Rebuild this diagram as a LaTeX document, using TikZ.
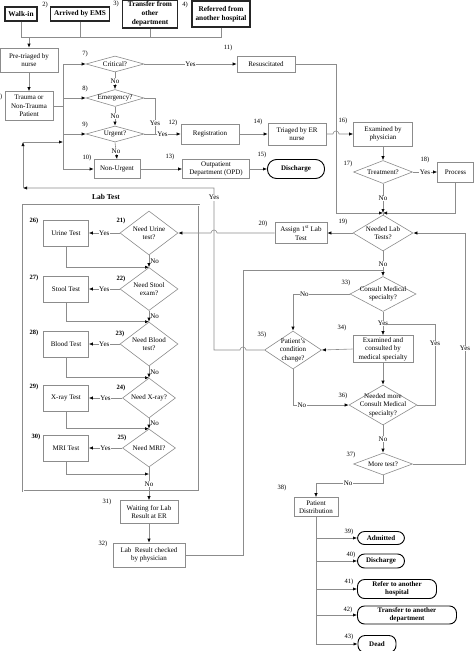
\documentclass[tikz,border=0pt]{standalone}
\usepackage{fontspec}
\setmainfont{Liberation Serif}
\usetikzlibrary{shapes.geometric,arrows.meta}

\begin{document}
\begin{tikzpicture}[x=1pt, y=-1pt,
  font=\fontsize{7}{8.5}\selectfont,
  con/.style={draw=black!45, line width=0.6pt},
  arr/.style={con, -{Latex[length=4pt,width=3.2pt,color=black]}},
  box/.style={draw=black!45, line width=0.6pt, align=center, inner sep=1pt},
  dia/.style={draw=black!45, line width=0.6pt, diamond, inner sep=0pt},
  txt/.style={align=center, inner sep=0pt},
  term/.style={draw=black, line width=0.9pt, rounded corners=7pt, align=center, inner sep=1pt, font=\fontsize{7}{8.5}\selectfont\bfseries},
  src/.style={draw=black!85, line width=1.4pt, align=center, inner sep=0.5pt, font=\fontsize{7.3}{9}\selectfont\bfseries},
  labframe/.style={draw=black!45, line width=0.6pt, double=white, double distance=0.8pt},
  yn/.style={fill=white, inner sep=0.5pt, text=black},
  nr/.style={right, inner sep=1pt, text=black},
  num/.style={font=\fontsize{6.5}{7}\selectfont, inner sep=0pt},
  numb/.style={font=\fontsize{6.5}{7}\selectfont\bfseries, inner sep=0pt}]
\useasboundingbox (0,0) rectangle (474,651);

% arrivals
\node[src, minimum width=32pt, minimum height=14pt] (walk) at (21,14) {Walk-in};
\node[src, minimum width=59pt, minimum height=14pt] (ems) at (80,14) {Arrived by EMS};
\node[src, minimum width=55pt, minimum height=28pt] (trans) at (150,14) {Transfer from\\other\\department};
\node[src, minimum width=58pt, minimum height=26pt] (refer) at (221,14) {Referred from\\another hospital};
\node[num] (n2) at (45,5) {2)};
\node[num] (n3) at (116,4) {3)};
\node[num] (n4) at (185,5) {4)};

\node[box, minimum width=58pt, minimum height=24pt] (pre) at (29,60) {Pre-triaged by\\nurse};
\node[box, minimum width=48pt, minimum height=29pt] (trauma) at (29,106) {Trauma or\\Non-Trauma\\Patient};
\node[num, anchor=east] (n6) at (2.5,97) {6)};

% triage decisions
\node[dia, minimum width=58pt, minimum height=16pt] (crit) at (115,64) {};
\node[txt] (critT) at (crit) {Critical?};
\node[dia, minimum width=58pt, minimum height=17pt] (emer) at (115,98) {};
\node[txt] (emerT) at (emer) {Emergency?};
\node[dia, minimum width=58pt, minimum height=16pt] (urg) at (115,134) {};
\node[txt] (urgT) at (urg) {Urgent?};
\node[box, minimum width=46pt, minimum height=19pt] (nonurg) at (117,169) {Non-Urgent};
\node[num] (n7) at (85,54) {7)};
\node[num] (n8) at (85,89) {8)};
\node[num] (n9) at (85,125) {9)};
\node[num] (n10) at (87,158) {10)};

\node[box, minimum width=58pt, minimum height=16pt] (resus) at (266,64) {Resuscitated};
\node[box, minimum width=58pt, minimum height=20pt] (reg) at (210,134) {Registration};
\node[box, minimum width=58pt, minimum height=22pt] (nurse) at (297,134) {Triaged by ER\\nurse};
\node[box, minimum width=59pt, minimum height=24pt] (exam) at (383,134) {Examined by\\physician};
\node[box, minimum width=67pt, minimum height=19pt] (opd) at (216,169) {Outpatient\\Department (OPD)};
\node[term, minimum width=57pt, minimum height=19pt, rounded corners=9pt] (dis15) at (296,169) {Discharge};
\node[dia, minimum width=59pt, minimum height=23pt] (treat) at (383,172) {};
\node[txt] (treatT) at (treat) {Treatment?};
\node[box, minimum width=36pt, minimum height=20pt] (proc) at (455.5,172) {Process};
\node[num] (n11) at (228,48) {11)};
\node[num] (n12) at (173,123) {12)};
\node[num] (n13) at (170,157) {13)};
\node[num] (n14) at (258,122) {14)};
\node[num] (n15) at (262,155) {15)};
\node[num] (n16) at (343,121) {16)};
\node[num] (n17) at (348,164) {17)};
\node[num] (n18) at (425,160) {18)};

\node[dia, minimum width=60pt, minimum height=36pt] (d19) at (383,233) {};
\node[txt] (d19T) at (d19) {Needed Lab\\Tests?};
\node[box, minimum width=52pt, minimum height=21pt] (assign) at (301,233) {Assign 1\textsuperscript{st} Lab\\Test};
\node[num] (n19) at (343,222) {19)};
\node[num] (n20) at (263,224) {20)};

% lab tests
\draw[labframe] (23,205) rectangle (199,491);
\node[font=\fontsize{7.5}{9}\selectfont\bfseries] (labT) at (106,197) {Lab Test};
\node[dia, minimum width=58pt, minimum height=44pt] (d21) at (149,233) {};
\node[txt] (d21T) at (d21) {Need Urine\\test?};
\node[dia, minimum width=58pt, minimum height=43pt] (d22) at (149,289) {};
\node[txt] (d22T) at (d22) {Need Stool\\exam?};
\node[dia, minimum width=58pt, minimum height=44pt] (d23) at (149,344) {};
\node[txt] (d23T) at (d23) {Need Blood\\test?};
\node[dia, minimum width=53pt, minimum height=40pt] (d24) at (149,398) {};
\node[txt] (d24T) at (d24) {Need X-ray?};
\node[dia, minimum width=53pt, minimum height=38pt] (d25) at (149,448) {};
\node[txt] (d25T) at (d25) {Need MRI?};
\node[box, minimum width=45pt, minimum height=26pt] (urine) at (66,233) {Urine Test};
\node[box, minimum width=45pt, minimum height=26pt] (stool) at (66,289) {Stool Test};
\node[box, minimum width=45pt, minimum height=26pt] (blood) at (66,344) {Blood Test};
\node[box, minimum width=45pt, minimum height=26pt] (xray) at (66,398) {X-ray Test};
\node[box, minimum width=45pt, minimum height=26pt] (mri) at (66,448) {MRI Test};
\node[numb] (n21) at (121,221) {21)};
\node[numb] (n22) at (121,279) {22)};
\node[numb] (n23) at (120,334) {23)};
\node[numb] (n24) at (121,388) {24)};
\node[numb] (n25) at (122,438) {25)};
\node[numb] (n26) at (34,221) {26)};
\node[numb] (n27) at (34,278) {27)};
\node[numb] (n28) at (34,333) {28)};
\node[numb] (n29) at (34,387) {29)};
\node[numb] (n30) at (36,437) {30)};

\node[box, minimum width=58pt, minimum height=23pt] (wait) at (149,512) {Waiting for Lab\\Result at ER};
\node[box, minimum width=72pt, minimum height=24pt] (check) at (149,555) {Lab~ Result checked\\by physician};
\node[num] (n31) at (107,502) {31)};
\node[num] (n32) at (103,544) {32)};

% consultation
\node[dia, minimum width=66pt, minimum height=35pt] (d33) at (383,294) {};
\node[txt] (d33T) at (d33) {Consult Medical\\specialty?};
\node[box, minimum width=60pt, minimum height=27pt, inner sep=0.5pt] (exam34) at (383,349) {Examined and\\consulted by\\medical specialty};
\node[dia, minimum width=57pt, minimum height=38pt] (d35) at (293,350) {};
\node[txt] (d35T) at (d35) {Patient's\\condition\\change?};
\node[dia, minimum width=68pt, minimum height=40pt] (d36) at (383,405) {};
\node[txt] (d36T) at (d36) {Needed more\\Consult Medical\\specialty?};
\node[dia, minimum width=59pt, minimum height=22pt] (d37) at (383,464) {};
\node[txt] (d37T) at (d37) {More test?};
\node[num] (n33) at (346,283) {33)};
\node[num] (n34) at (342,328) {34)};
\node[num] (n35) at (262,335) {35)};
\node[num] (n36) at (343,396) {36)};
\node[num] (n37) at (351,455) {37)};

% distribution
\node[box, minimum width=44pt, minimum height=19pt] (dist) at (316,507) {Patient\\Distribution};
\node[term, minimum width=47pt, minimum height=13pt] (adm) at (381,538) {Admitted};
\node[term, minimum width=47pt, minimum height=14pt] (dis40) at (381,561) {Discharge};
\node[term, minimum width=79pt, minimum height=19pt] (ref41) at (397,589) {Refer to another\\hospital};
\node[term, minimum width=99pt, minimum height=18pt] (tr42) at (407,615) {Transfer to another\\department};
\node[term, minimum width=38pt, minimum height=17pt] (dead) at (377,644) {Dead};
\node[num] (n38) at (282,488) {38)};
\node[num] (n39) at (349,532) {39)};
\node[num] (n40) at (351,555) {40)};
\node[num] (n41) at (349,582) {41)};
\node[num] (n42) at (348,610) {42)};
\node[num] (n43) at (349,637) {43)};

% connectors, top part
\coordinate (bus) at (29,37);
\draw[con] (walk.south) |- (bus);
\draw[con] (ems.south) -- (ems.south |- bus);
\draw[con] (trans.south) -- (trans.south |- bus);
\draw[con] (refer.south) |- (bus);
\draw[arr] (bus) -- (pre.north);
\draw[arr] (pre.south) -- (trauma.north);

\coordinate (vt) at (63,64);
\coordinate (vb) at (63,169);
\draw[con] (vt) -- (vb);
\draw[con] (trauma.east) -- (trauma.east -| vt);
\draw[arr] (vt) -- (crit.west);
\draw[arr] (vt |- emer) -- (emer.west);
\draw[arr] (vt |- urg) -- (urg.west);
\draw[arr] (vb) -- (nonurg.west);

\draw[arr] (crit.south) -- node[yn]{No} (emer.north);
\draw[arr] (emer.south) -- node[yn]{No} (urg.north);
\draw[arr] (urg.south) -- node[yn]{No} (nonurg.north);
\draw[arr] (crit.east) -- node[yn]{Yes} (resus.west);
\draw[arr] (urg.east) -- node[yn]{Yes} (reg.west);
\coordinate (ey) at (155,134);
\draw[con] (emer.east) -| node[yn, pos=0.85]{Yes} (ey);
\draw[arr] (nonurg.east) -- (opd.west);
\draw[arr] (opd.east) -- (dis15.west);
\draw[arr] (reg.east) -- (nurse.west);
\draw[arr] (nurse.east) -- (333,134) arc (180:0:3pt) -- (exam.west);
\draw[arr] (exam.south) -- (treat.north);
\draw[arr] (treat.east) -- node[yn]{Yes} (proc.west);

\coordinate (j19) at (383,213);
\coordinate (rc) at (336,213);
\draw[arr] (treat.south) -- node[yn]{No} (j19);
\draw[arr] (resus.east) -| (rc) -- (j19);
\draw[arr] (proc.south) |- (j19);
\draw[con] (j19) -- (d19.north);
\draw[arr] (d19.west) -- (assign.east);
\draw[arr] (assign.west) -- (217,233) arc (0:180:3pt) -- (d21.east);

% lab column
\draw[arr] (d21.west) -- node[yn]{Yes} (urine.east);
\draw[arr] (d22.west) -- node[yn]{Yes} (stool.east);
\draw[arr] (d23.west) -- node[yn]{Yes} (blood.east);
\draw[arr] (d24.west) -- node[yn]{Yes} (xray.east);
\draw[arr] (d25.west) -- node[yn]{Yes} (mri.east);
\draw[arr] (d21.south) -- node[nr]{No} (d22.north);
\draw[arr] (d22.south) -- node[nr]{No} (d23.north);
\draw[arr] (d23.south) -- node[nr]{No} (d24.north);
\draw[arr] (d24.south) -- node[nr]{No} (d25.north);
\draw[arr] (urine.south) |- (d22.north);
\draw[arr] (stool.south) |- (d23.north);
\draw[arr] (blood.south) |- (d24.north);
\draw[arr] (xray.south) |- (d25.north);
\coordinate (j25) at (149,474);
\draw[arr] (mri.south) |- (j25);
\draw[arr] (d25.south) -- node[yn]{No} (wait.north);
\draw[arr] (wait.south) -- (check.north);

% back to consultation
\coordinate (j33) at (383,270);
\coordinate (cr) at (243,555);
\draw[con] (check.east) -- (cr) |- (j33);
\draw[arr] (d19.south) -- node[yn]{No} (d33.north);
\draw[arr] (d33.west) -| node[yn, pos=0.4]{No} (d35.north);
\draw[arr] (d33.south) -- node[yn]{Yes} (exam34.north);
\draw[arr] (exam34.west) -- (d35.east);
\draw[arr] (exam34.south) -- (d36.north);
\draw[arr] (d35.south) |- node[yn, pos=0.58]{No} (d36.west);
\coordinate (j34) at (383,324);
\draw[con] (d36.east) -- (435,405) |- node[yn, pos=0.38]{Yes} (j34);

\coordinate (ya) at (214,188);
\coordinate (ra) at (23,188);
\coordinate (rb) at (23,142);
\draw[arr] (d35.west) -- (246,350) arc (0:180:3pt) -- (214,350) -- node[yn, pos=0.94]{Yes} (ya) -- (ra);
\draw[arr] (ra) -- (rb);
\draw[arr] (rb) -- (rb -| vt);

\draw[arr] (d36.south) -- node[yn]{No} (d37.north);
\draw[arr] (d37.east) -- (465,464) |- node[yn, pos=0.25]{Yes} (d19.east);
\coordinate (dn) at (383,483);
\draw[arr] (d37.south) -- (dn) -| node[yn, pos=0.26]{No} (dist.north);

\draw[con] (dist.south) -- (dist.south |- dead);
\draw[arr] (dist.south |- adm) -- (adm.west);
\draw[arr] (dist.south |- dis40) -- (dis40.west);
\draw[arr] (dist.south |- ref41) -- (ref41.west);
\draw[arr] (dist.south |- tr42) -- (tr42.west);
\draw[arr] (dist.south |- dead) -- (dead.west);
\end{tikzpicture}
\end{document}
